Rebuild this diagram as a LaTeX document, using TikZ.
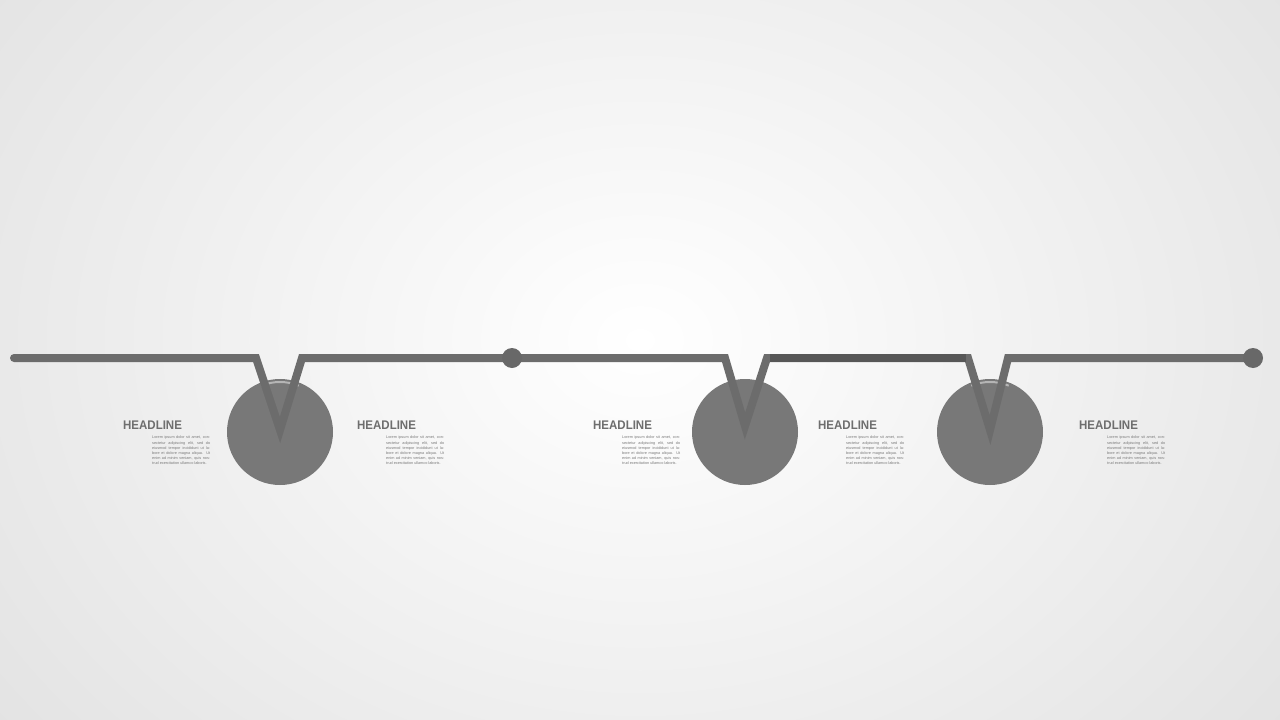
\documentclass[tikz,border=0pt]{standalone}
\usepackage{fontspec}
\setmainfont{Liberation Sans}
\begin{document}
\begin{tikzpicture}[x=1pt,y=-1pt,
  tline/.style={line width=8pt, draw=linegray, line join=miter},
  disc/.style={circle, fill=discgray, minimum size=106pt, inner sep=0pt},
  dot/.style={circle, fill=dotgray, minimum size=20pt, inner sep=0pt},
  head/.style={font=\bfseries\fontsize{12.5}{12.5}\selectfont, text=headgray, anchor=west, inner sep=0pt, xscale=0.92},
  body/.style={font=\fontsize{3.8}{5.2}\selectfont, text=bodygray, anchor=north west, inner sep=0pt, text width=58pt, align=justify}]
\definecolor{linegray}{HTML}{6C6C6C}
\definecolor{darkline}{HTML}{575757}
\definecolor{discgray}{HTML}{787878}
\definecolor{dotgray}{HTML}{686868}
\definecolor{headgray}{HTML}{6E6E6E}
\definecolor{bodygray}{HTML}{7A7A7A}
\definecolor{bgedge}{HTML}{E2E2E2}
% background
\useasboundingbox (0,0) rectangle (1280,720);
\shade[inner color=white, outer color=bgedge] (-200,-320) rectangle (1480,1000);
% discs
\node[disc] (c1) at (280,432) {};
\node[disc] (c2) at (745,432) {};
\node[disc] (c3) at (990,432) {};
% faint caps on discs
\draw[white!45!discgray, line width=2pt] (c1.center) ++(-112:50) arc (-112:-68:50);
\draw[white!45!discgray, line width=2pt] (c3.center) ++(-112:50) arc (-112:-68:50);
% timeline
\coordinate (s) at (14,358);
\coordinate (e) at (1253,358);
\draw[tline, line cap=round] (s) -- (256,358) -- (280,430) -- (302,358) -- (725,358) -- (745,426) -- (767,358) -- (968,358) -- (990,430) -- (1008,358) -- (e);
\draw[line width=8pt, draw=darkline] (770,358) -- (966,358);
\node[dot] (m) at (512,358) {};
\node[dot] (end) at (1253,358) {};
% texts
\node[head] (h1) at (123,425) {HEADLINE};
\node[body] (b1) at (152,436) {Lorem ipsum dolor sit amet, consectetur adipiscing elit, sed do eiusmod tempor incididunt ut labore et dolore magna aliqua. Ut enim ad minim veniam, quis nostrud exercitation ullamco laboris.};
\node[head] (h2) at (357,425) {HEADLINE};
\node[body] (b2) at (386,436) {Lorem ipsum dolor sit amet, consectetur adipiscing elit, sed do eiusmod tempor incididunt ut labore et dolore magna aliqua. Ut enim ad minim veniam, quis nostrud exercitation ullamco laboris.};
\node[head] (h3) at (593,425) {HEADLINE};
\node[body] (b3) at (622,436) {Lorem ipsum dolor sit amet, consectetur adipiscing elit, sed do eiusmod tempor incididunt ut labore et dolore magna aliqua. Ut enim ad minim veniam, quis nostrud exercitation ullamco laboris.};
\node[head] (h4) at (818,425) {HEADLINE};
\node[body] (b4) at (846,436) {Lorem ipsum dolor sit amet, consectetur adipiscing elit, sed do eiusmod tempor incididunt ut labore et dolore magna aliqua. Ut enim ad minim veniam, quis nostrud exercitation ullamco laboris.};
\node[head] (h5) at (1079,425) {HEADLINE};
\node[body] (b5) at (1107,436) {Lorem ipsum dolor sit amet, consectetur adipiscing elit, sed do eiusmod tempor incididunt ut labore et dolore magna aliqua. Ut enim ad minim veniam, quis nostrud exercitation ullamco laboris.};
\end{tikzpicture}
\end{document}
